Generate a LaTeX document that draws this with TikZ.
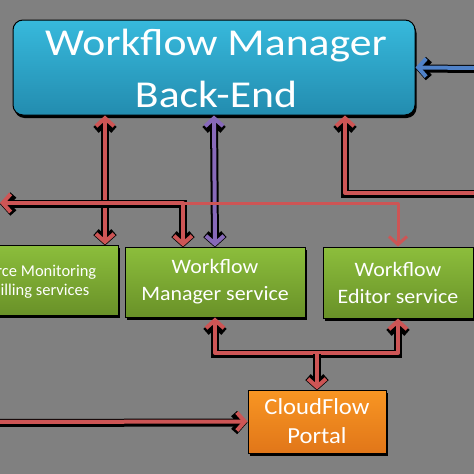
\documentclass[tikz,border=0pt]{standalone}
\usepackage{fontspec}
\setmainfont{Carlito}
\newfontfamily\widefont[FakeStretch=1.15]{Carlito}
\newfontfamily\midfont[FakeStretch=1.07]{Carlito}
\usetikzlibrary{arrows.meta,shadows}
\definecolor{bg}{RGB}{128,128,128}
\definecolor{lred}{RGB}{205,85,85}
\definecolor{lpurple}{RGB}{135,105,185}
\definecolor{lblue}{RGB}{80,130,200}
\definecolor{btop}{RGB}{55,185,220}
\definecolor{bbot}{RGB}{35,140,175}
\definecolor{gtop}{RGB}{140,190,60}
\definecolor{gbot}{RGB}{105,145,40}
\definecolor{otop}{RGB}{248,150,35}
\definecolor{obot}{RGB}{225,118,25}
\tikzset{
  box/.style={draw=black, line width=1pt, text=white, align=center, inner sep=0pt,
    drop shadow={fill=black, opacity=1, shadow xshift=1.5pt, shadow yshift=-3pt}},
  bluebox/.style={box, rounded corners=10pt, top color=btop, bottom color=bbot},
  greenbox/.style={box, top color=gtop, bottom color=gbot},
  orangebox/.style={box, top color=otop, bottom color=obot},
  tipshape/.tip={Straight Barb[length=8pt,width=18pt]},
  conn/.style={line width=4pt, draw=lred, line join=round,
    preaction={draw=black, line width=8pt, transform canvas={yshift=-1pt}}},
  thinconn/.style={line width=3pt, draw=lred, line join=round},
}
\begin{document}
\begin{tikzpicture}[x=1pt,y=-1pt]
\fill[bg] (0,0) rectangle (474,474);
\useasboundingbox (0,0) rectangle (474,474);

% boxes
\node[bluebox, minimum width=402pt, minimum height=95pt] (BE) at (214,67.5) {};
\node[text=white, align=center, font=\widefont\fontsize{38}{52}\selectfont] (BEt) at (216,68) {Workflow Manager\\Back-End};

\node[greenbox, minimum width=200pt, minimum height=70pt] (L) at (18,280) {};
\node[text=white, align=center, font=\fontsize{16.5}{19}\selectfont] (Lt) at (26,282) {Resource Monitoring\\and Billing services};

\node[greenbox, minimum width=180pt, minimum height=70pt, font=\midfont\fontsize{20.5}{27}\selectfont] (M) at (215,282) {Workflow\\Manager service};
\node[greenbox, minimum width=150pt, minimum height=71pt, font=\midfont\fontsize{20.5}{27}\selectfont] (E) at (398,282.5) {Workflow\\Editor service};
\node[orangebox, minimum width=138pt, minimum height=63pt, font=\midfont\fontsize{23}{29}\selectfont] (P) at (317,421.5) {CloudFlow\\Portal};

% helper coordinates
\coordinate (x105) at (105,0);
\coordinate (x183) at (183,0);
\coordinate (x345) at (345,0);
\coordinate (lft) at (0,203);
\coordinate (j1) at (183,203);
\coordinate (rgt) at (480,193);
\coordinate (rgtb) at (480,68);
\coordinate (jb) at (317,353);
\coordinate (lftp) at (-5,422);

% connectors
\draw[conn, tipshape-tipshape] (BE.south -| x105) -- (L.north -| x105);
\draw[conn, draw=lpurple, tipshape-tipshape] (BE.south) -- (M.north);
\draw[conn, -tipshape] (rgt) -- (rgt -| x345) -- (BE.south -| x345);
\draw[conn, draw=lblue, -tipshape] (rgtb) -- (BE.east);
\draw[conn, tipshape-tipshape] (lft) -- (j1) -- (M.north -| x183);
\draw[thinconn, -tipshape] (j1) -- (j1 -| E.north) -- (E.north);
\draw[conn, -tipshape] (jb) -- (jb -| M.south) -- (M.south);
\draw[conn, -tipshape] (jb) -- (jb -| E.south) -- (E.south);
\draw[conn, -tipshape] (jb) -- (P.north);
\draw[conn, -tipshape] (lftp) -- (P.west);
\end{tikzpicture}
\end{document}
